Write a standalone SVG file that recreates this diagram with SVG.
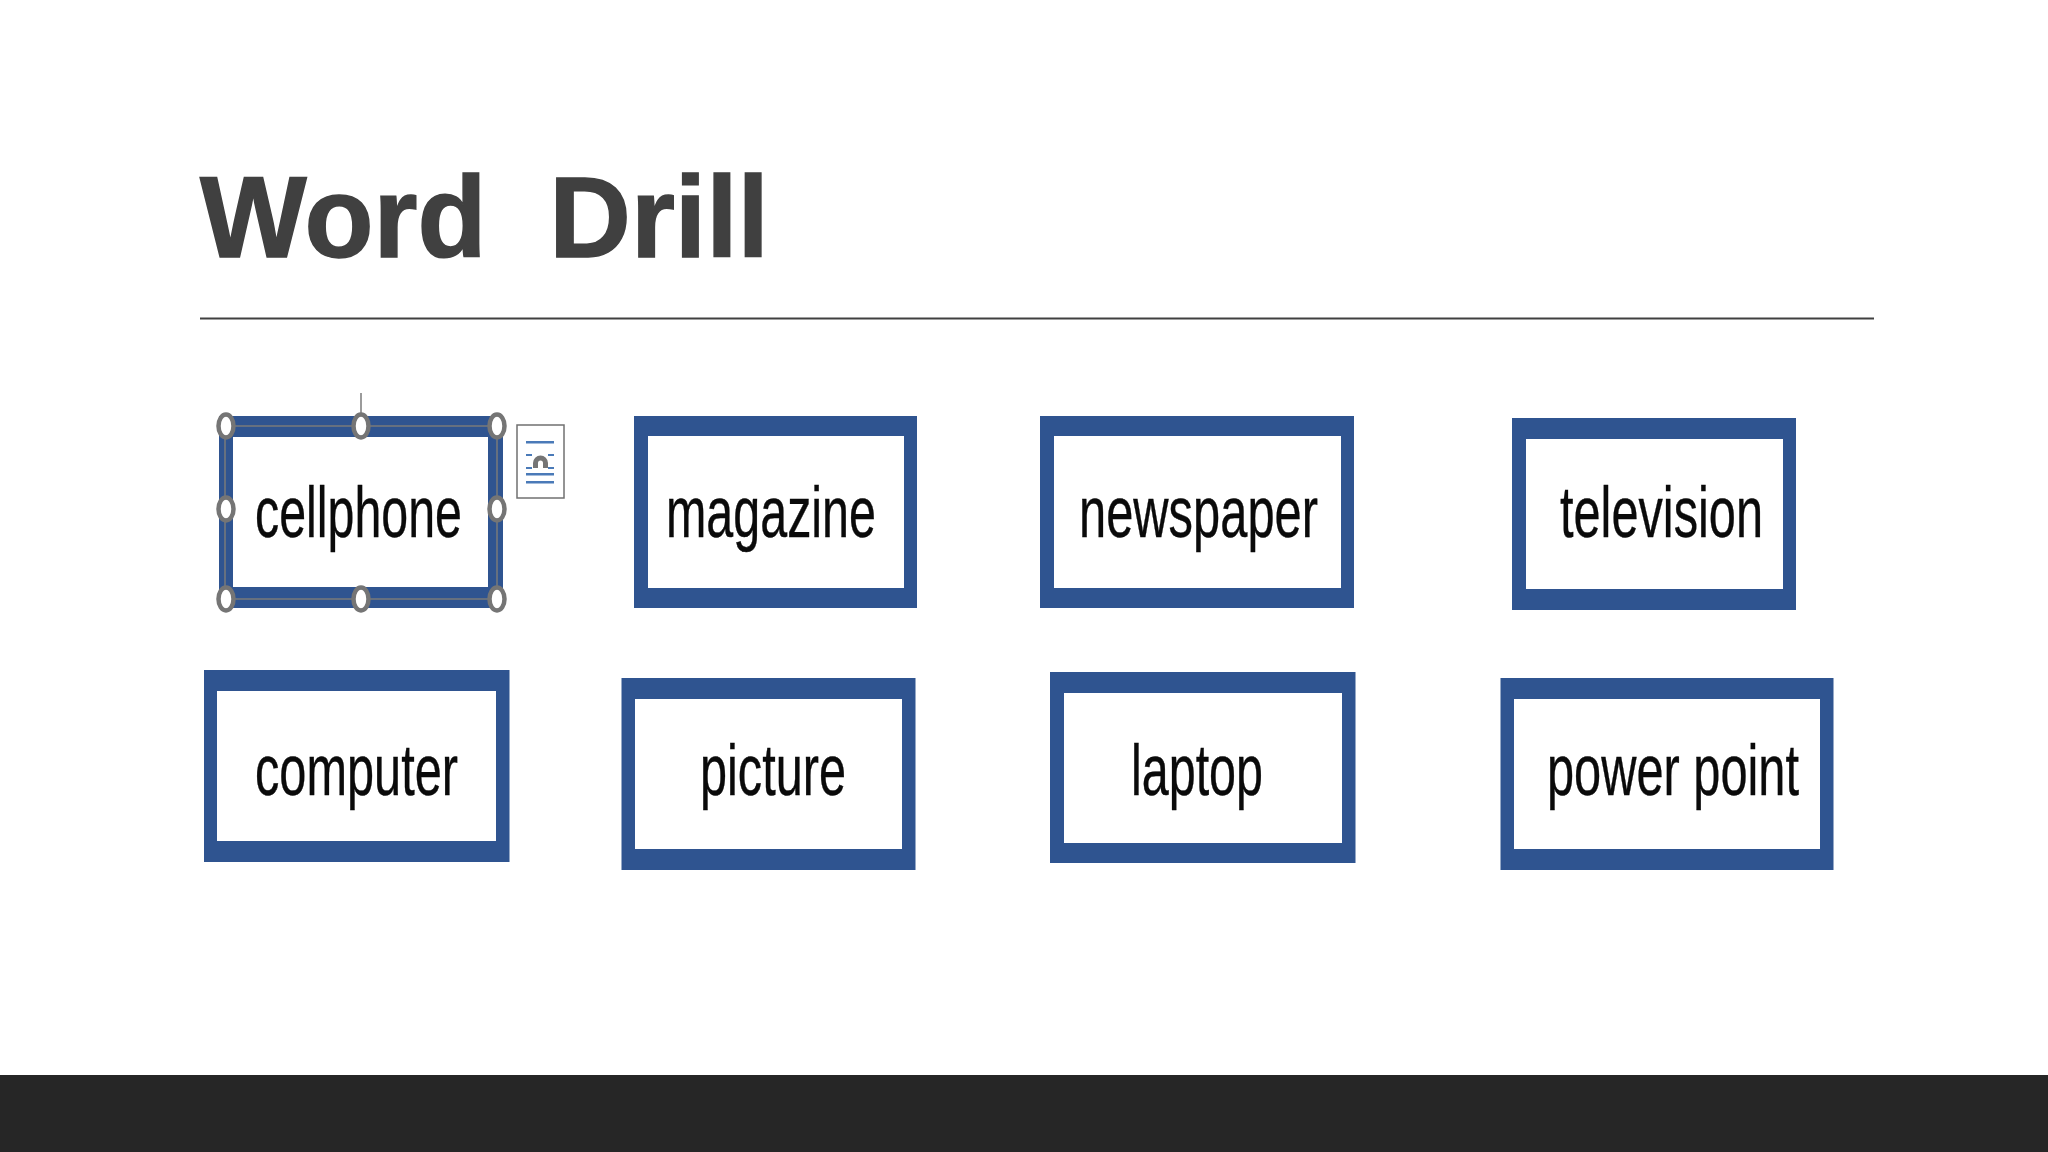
<svg xmlns="http://www.w3.org/2000/svg" width="2048" height="1152" viewBox="0 0 2048 1152">
<style>
.frame{fill:#fff;stroke:none}
.border{fill:#2f5490}
.word{font-family:"Liberation Sans",Arial,sans-serif;font-size:73px;fill:#0a0a0a;stroke:#0a0a0a;stroke-width:.4}
.handle{fill:#fff;stroke:#757575;stroke-width:4.5}
.sel{fill:none;stroke:#7a7a7a;stroke-width:1.5}
</style>
<rect width="2048" height="1152" fill="#fff"/>
<text id="title" x="200" y="257" font-family="'Liberation Sans',Arial,sans-serif" font-weight="700" font-size="115" fill="#404040" stroke="#404040" stroke-width="1.5" xml:space="preserve" textLength="569" lengthAdjust="spacingAndGlyphs">Word  Drill</text>
<rect x="200" y="317.5" width="1674" height="2" fill="#404040"/>
<g id="node-cellphone"><rect class="border" x="219" y="416" width="284" height="192"/><rect class="frame" x="233" y="437" width="255" height="150"/><text class="word" x="255" y="537" textLength="207" lengthAdjust="spacingAndGlyphs">cellphone</text>
<rect class="sel" x="225" y="426" width="272" height="173"/><line x1="361" y1="393" x2="361" y2="426" stroke="#7a7a7a" stroke-width="1.5"/>
<ellipse class="handle" cx="226" cy="426" rx="7.5" ry="11.500"/><ellipse class="handle" cx="361" cy="426" rx="7.5" ry="11.500"/><ellipse class="handle" cx="497" cy="426" rx="7.5" ry="11.500"/><ellipse class="handle" cx="226" cy="509" rx="7.5" ry="11.500"/><ellipse class="handle" cx="497" cy="509" rx="7.5" ry="11.500"/><ellipse class="handle" cx="226" cy="599" rx="7.5" ry="11.500"/><ellipse class="handle" cx="361" cy="599" rx="7.5" ry="11.500"/><ellipse class="handle" cx="497" cy="599" rx="7.5" ry="11.500"/></g>
<g id="layout-icon"><rect x="517" y="425" width="47" height="73" fill="#fff" stroke="#707070" stroke-width="1.5"/>
<g fill="#4a7ab8"><rect x="526" y="441" width="28" height="2.5"/><rect x="526" y="454" width="6" height="2"/><rect x="548" y="454" width="6" height="2"/><rect x="526" y="467" width="6" height="2"/><rect x="548" y="467" width="6" height="2"/><rect x="526" y="473" width="28" height="2.5"/><rect x="526" y="481" width="28" height="2.5"/></g>
<path d="M535.5 468v-5a5 5 0 0 1 10 0v5" fill="none" stroke="#757575" stroke-width="5"/></g>
<g id="node-magazine"><rect class="border" x="634" y="416" width="283" height="192"/><rect class="frame" x="648" y="436" width="256" height="152"/><text class="word" x="666" y="537" textLength="210" lengthAdjust="spacingAndGlyphs">magazine</text></g>
<g id="node-newspaper"><rect class="border" x="1040" y="416" width="314" height="192"/><rect class="frame" x="1054" y="436" width="287" height="152"/><text class="word" x="1079" y="537" textLength="239" lengthAdjust="spacingAndGlyphs">newspaper</text></g>
<g id="node-television"><rect class="border" x="1512" y="418" width="284" height="192"/><rect class="frame" x="1526" y="439" width="257" height="150"/><text class="word" x="1560" y="537" textLength="203" lengthAdjust="spacingAndGlyphs">television</text></g>
<g id="node-computer"><rect class="border" x="204" y="670" width="305.500" height="192"/><rect class="frame" x="217" y="691" width="279" height="150"/><text class="word" x="255" y="795" textLength="203" lengthAdjust="spacingAndGlyphs">computer</text></g>
<g id="node-picture"><rect class="border" x="621.500" y="678" width="294" height="192"/><rect class="frame" x="635" y="699" width="267" height="150"/><text class="word" x="700" y="795" textLength="146" lengthAdjust="spacingAndGlyphs">picture</text></g>
<g id="node-laptop"><rect class="border" x="1050" y="672" width="305.500" height="191"/><rect class="frame" x="1064" y="693" width="278" height="150"/><text class="word" x="1131" y="795" textLength="132" lengthAdjust="spacingAndGlyphs">laptop</text></g>
<g id="node-power-point"><rect class="border" x="1500.500" y="678" width="333" height="192"/><rect class="frame" x="1514" y="699" width="306" height="150"/><text class="word" x="1547" y="795" textLength="252" lengthAdjust="spacingAndGlyphs">power point</text></g>
<rect id="footer" y="1075" width="2048" height="77" fill="#262626"/>
<g id="connectors"/>
</svg>
